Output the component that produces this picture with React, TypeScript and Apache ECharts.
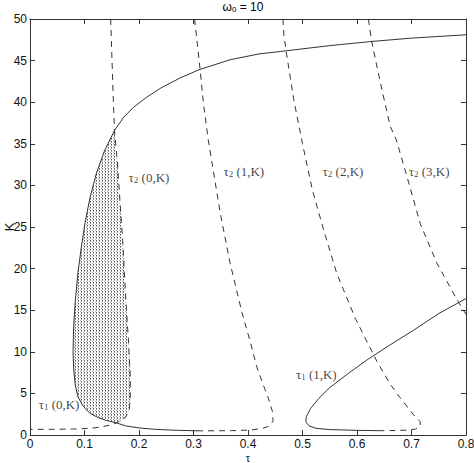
import React, { useEffect, useRef } from "react";
import * as echarts from "echarts";

// tau axis ticks 0..0.8, K axis ticks 0..50
const tauTicks = [0, 0.1, 0.2, 0.3, 0.4, 0.5, 0.6, 0.7, 0.8];
const kTicks = [0, 5, 10, 15, 20, 25, 30, 35, 40, 45, 50];

// solid curve tau1(0,K) (continues as upper boundary)
const tau1_0: [number, number][] = [
  [0.31, 0.5], [0.27, 0.56], [0.23, 0.68], [0.2, 0.85], [0.175, 1.1], [0.159, 1.45],
  [0.14, 1.75], [0.125, 2.1], [0.11, 2.6], [0.097, 3.5], [0.088, 4.6], [0.083, 6],
  [0.08, 8], [0.079, 10], [0.08, 13], [0.083, 16], [0.088, 19.5], [0.094, 22.5],
  [0.101, 25.5], [0.11, 28.5], [0.122, 31.5], [0.137, 34.2], [0.155, 36.6],
  [0.172, 38.2], [0.19, 39.4], [0.214, 40.6], [0.24, 41.7], [0.275, 42.9],
  [0.31, 43.9], [0.367, 45.1], [0.42, 45.8], [0.46, 46.1], [0.55, 46.8],
  [0.627, 47.3], [0.7, 47.7], [0.8, 48.1],
];

// solid curve tau1(1,K)
const tau1_1: [number, number][] = [
  [0.8, 16.4], [0.75, 14.6], [0.704, 12.6], [0.66, 10.8], [0.62, 9.1], [0.58, 7.2],
  [0.55, 5.7], [0.53, 4.4], [0.515, 3.2], [0.507, 2.2], [0.506, 1.6], [0.512, 1.1],
  [0.525, 0.8], [0.55, 0.65], [0.6, 0.56], [0.64, 0.52],
];

// dashed curves tau2(n,K)
const tau2_0: [number, number][] = [
  [0.148, 50], [0.151, 44], [0.153, 40], [0.155, 36.6], [0.16, 33], [0.165, 28.2],
  [0.17, 23.4], [0.176, 16], [0.181, 11], [0.184, 7], [0.184, 4.5], [0.182, 3],
  [0.175, 2.1], [0.159, 1.45], [0.147, 1.2], [0.13, 0.95], [0.11, 0.8],
  [0.08, 0.72], [0.04, 0.68], [0, 0.68],
];
const tau2_1: [number, number][] = [
  [0.302, 50], [0.307, 47], [0.312, 44], [0.318, 40], [0.327, 35.5], [0.337, 31.5],
  [0.349, 26.7], [0.367, 20.7], [0.389, 14.7], [0.405, 11], [0.416, 8.2],
  [0.427, 6.2], [0.437, 4.5], [0.445, 2.8], [0.446, 1.7], [0.44, 1.1],
  [0.428, 0.82], [0.405, 0.6], [0.37, 0.52], [0.31, 0.5],
];
const tau2_2: [number, number][] = [
  [0.464, 50], [0.466, 48], [0.471, 45.7], [0.484, 40.3], [0.5, 35], [0.518, 29.5],
  [0.539, 24.6], [0.563, 19.4], [0.597, 14], [0.62, 11], [0.637, 8.8], [0.66, 6.2],
  [0.68, 4.4], [0.704, 2.4], [0.716, 1.6], [0.716, 1.1], [0.707, 0.7], [0.69, 0.58],
  [0.66, 0.53], [0.64, 0.52],
];
const tau2_3: [number, number][] = [
  [0.621, 50], [0.623, 49], [0.627, 47.3], [0.643, 42.3], [0.661, 37.1],
  [0.672, 35.5], [0.692, 31], [0.716, 25.4], [0.747, 20.6], [0.784, 16.2], [0.8, 14.5],
];

// stable (shaded) region limits in K
const shadeKMin = 1.45;
const shadeKMax = 36.6;

// curve annotations: "sub|n", anchored at (tau, K)
const labelTexts = ["2|0", "2|1", "2|2", "2|3", "1|0", "1|1"];
const labelTau = [0.18, 0.354, 0.536, 0.694, 0.015, 0.487];
const labelK = [31.0, 31.7, 31.7, 31.7, 3.7, 7.3];

export default function App() {
  const ref = useRef<HTMLDivElement>(null);
  useEffect(() => {
    if (!ref.current) return;
    const chart = echarts.init(ref.current, undefined, { renderer: "svg" });

    const cv = document.createElement("canvas");
    cv.width = 3;
    cv.height = 3;
    const ctx = cv.getContext("2d")!;
    ctx.fillStyle = "#555";
    ctx.fillRect(0, 0, 1, 1);
    ctx.fillStyle = "#9a9a9a";
    ctx.fillRect(0, 1, 1, 1);
    ctx.fillStyle = "#aaa";
    ctx.fillRect(2, 2, 1, 1);
    const pattern: any = { image: cv, repeat: "repeat", imageWidth: 3, imageHeight: 3 };

    const solidPart = tau1_0.filter((p) => p[1] >= shadeKMin && p[1] <= shadeKMax && p[0] < 0.16);
    const dashedPart = tau2_0.filter((p) => p[1] >= shadeKMin && p[1] <= shadeKMax);
    const shade = solidPart.concat(dashedPart);

    const lineColor = "#333";
    const mkLine = (data: [number, number][], dashed: boolean) => ({
      type: "line",
      data,
      showSymbol: false,
      symbol: "none",
      clip: true,
      silent: true,
      z: 3,
      lineStyle: { color: lineColor, width: 1, type: dashed ? [6, 5] : "solid" },
    });

    const serif = "'Liberation Serif', 'Times New Roman', serif";
    const sans = "'Liberation Sans', Arial, sans-serif";
    const rich = {
      t: { fontFamily: serif, fontSize: 13, color: "#111", lineHeight: 14 },
      s: { fontFamily: serif, fontSize: 9, color: "#111", lineHeight: 8, verticalAlign: "bottom" },
    };

    const axisLine = { show: true, onZero: false, lineStyle: { color: "#333", width: 1 } };
    const axisTick = { show: true, inside: true, length: 5, lineStyle: { color: "#333", width: 1 } };
    const labelStyle = { fontFamily: sans, fontSize: 12, color: "#111", lineHeight: 12 };

    chart.setOption({
      animation: false,
      grid: { left: 30, top: 19, right: 8, bottom: 28, containLabel: false, outerBoundsMode: "none" },
      xAxis: [
        {
          type: "value", min: tauTicks[0], max: tauTicks[tauTicks.length - 1], interval: 0.1,
          position: "bottom", axisLine, axisTick, splitLine: { show: false },
          axisLabel: { ...labelStyle, margin: 3, formatter: (v: number) => String(Math.round(v * 10) / 10) },
        },
        {
          type: "value", min: tauTicks[0], max: tauTicks[tauTicks.length - 1], interval: 0.1,
          position: "top", axisLine, axisTick, splitLine: { show: false }, axisLabel: { show: false },
        },
      ],
      yAxis: [
        {
          type: "value", min: kTicks[0], max: kTicks[kTicks.length - 1], interval: 5,
          position: "left", axisLine, axisTick, splitLine: { show: false },
          axisLabel: { ...labelStyle, margin: 3 },
        },
        {
          type: "value", min: kTicks[0], max: kTicks[kTicks.length - 1], interval: 5,
          position: "right", axisLine, axisTick, splitLine: { show: false }, axisLabel: { show: false },
        },
      ],
      graphic: [
        {
          type: "text", x: 243, y: 0,
          style: {
            text: "{w|ω}{s|0}{w| = 10}",
            textAlign: "center", textVerticalAlign: "top",
            rich: {
              w: { fontFamily: sans, fontSize: 12, color: "#111", lineHeight: 13 },
              s: { fontFamily: sans, fontSize: 8, color: "#111", lineHeight: 7, verticalAlign: "bottom" },
            },
          },
        },
        {
          type: "text", x: 248, y: 458,
          style: {
            text: "τ", fontFamily: serif, fontSize: 12, lineHeight: 10, fill: "#111",
            textAlign: "center", textVerticalAlign: "middle",
          },
        },
        {
          type: "text", x: 9, y: 227, rotation: Math.PI / 2,
          style: {
            text: "K", fontFamily: sans, fontSize: 13, fill: "#111",
            textAlign: "center", textVerticalAlign: "middle",
          },
        },
      ],
      series: [
        {
          type: "custom",
          silent: true,
          z: 1,
          data: [0],
          clip: true,
          renderItem: (_params: any, api: any) => ({
            type: "polygon",
            shape: { points: shade.map((p) => api.coord(p)) },
            style: { fill: pattern, stroke: "none" },
          }),
        },
        mkLine(tau1_0, false),
        mkLine(tau1_1, false),
        mkLine(tau2_0, true),
        mkLine(tau2_1, true),
        mkLine(tau2_2, true),
        mkLine(tau2_3, true),
        {
          type: "scatter",
          silent: true,
          symbol: "circle",
          symbolSize: 1,
          itemStyle: { color: "transparent" },
          z: 4,
          data: labelTexts.map((t, i) => {
            const [sub, n] = t.split("|");
            return {
              value: [labelTau[i], labelK[i]],
              label: { formatter: `{t|τ}{s|${sub}}{t| (${n},K)}` },
            };
          }),
          label: { show: true, position: "right", distance: 0, rich },
        },
      ],
    });
    return () => chart.dispose();
  }, []);
  return <div ref={ref} style={{ position: "absolute", left: 0, top: 0, width: 474, height: 463 }} />;
}
